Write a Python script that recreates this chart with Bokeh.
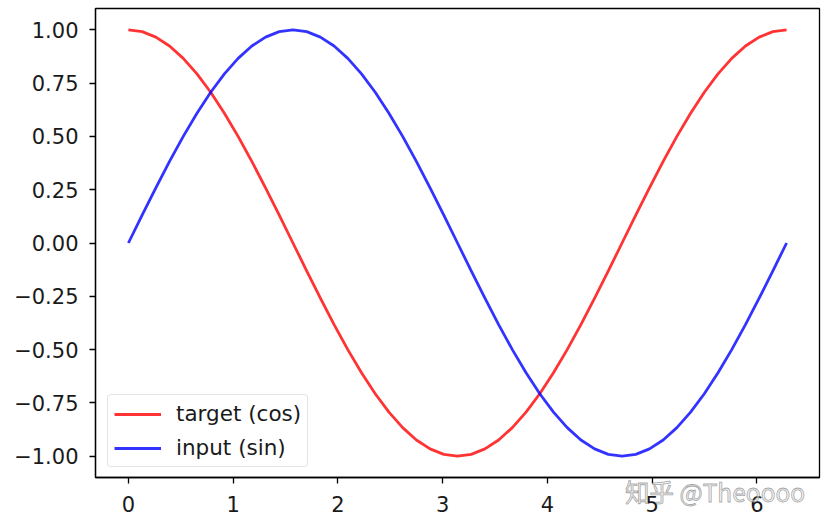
from bokeh.plotting import figure
from bokeh.models import (ColumnDataSource, Range1d, FixedTicker, CustomJSTickFormatter,
                          Legend, LegendItem, Div)
from bokeh.layouts import column
from bokeh.embed import file_html
from bokeh.resources import INLINE

# data (one full period)
x_vals = [0.0, 0.1309, 0.2618, 0.3927, 0.5236, 0.6545, 0.7854, 0.9163, 1.0472, 1.1781,
          1.3090, 1.4399, 1.5708, 1.7017, 1.8326, 1.9635, 2.0944, 2.2253, 2.3562, 2.4871,
          2.6180, 2.7489, 2.8798, 3.0107, 3.1416, 3.2725, 3.4034, 3.5343, 3.6652, 3.7961,
          3.9270, 4.0579, 4.1888, 4.3197, 4.4506, 4.5815, 4.7124, 4.8433, 4.9742, 5.1051,
          5.2360, 5.3669, 5.4978, 5.6287, 5.7596, 5.8905, 6.0214, 6.1523, 6.2832]
target_cos = [1.0, 0.9914, 0.9659, 0.9239, 0.8660, 0.7934, 0.7071, 0.6088, 0.5, 0.3827,
              0.2588, 0.1305, 0.0, -0.1305, -0.2588, -0.3827, -0.5, -0.6088, -0.7071, -0.7934,
              -0.8660, -0.9239, -0.9659, -0.9914, -1.0, -0.9914, -0.9659, -0.9239, -0.8660, -0.7934,
              -0.7071, -0.6088, -0.5, -0.3827, -0.2588, -0.1305, 0.0, 0.1305, 0.2588, 0.3827,
              0.5, 0.6088, 0.7071, 0.7934, 0.8660, 0.9239, 0.9659, 0.9914, 1.0]
input_sin = [0.0, 0.1305, 0.2588, 0.3827, 0.5, 0.6088, 0.7071, 0.7934, 0.8660, 0.9239,
             0.9659, 0.9914, 1.0, 0.9914, 0.9659, 0.9239, 0.8660, 0.7934, 0.7071, 0.6088,
             0.5, 0.3827, 0.2588, 0.1305, 0.0, -0.1305, -0.2588, -0.3827, -0.5, -0.6088,
             -0.7071, -0.7934, -0.8660, -0.9239, -0.9659, -0.9914, -1.0, -0.9914, -0.9659, -0.9239,
             -0.8660, -0.7934, -0.7071, -0.6088, -0.5, -0.3827, -0.2588, -0.1305, 0.0]
x_ticks = [0, 1, 2, 3, 4, 5, 6]
y_ticks = [-1.0, -0.75, -0.5, -0.25, 0.0, 0.25, 0.5, 0.75, 1.0]
series_labels = ["target (cos)", "input (sin)"]
watermark = "知乎 @Theoooo"

src = ColumnDataSource(dict(x=x_vals, c=target_cos, s=input_sin))

xmin, xmax = min(x_vals), max(x_vals)
xpad = (xmax - xmin) * 0.05
ymin, ymax = min(input_sin), max(input_sin)
ypad = (ymax - ymin) * 0.05

p = figure(width=821, height=520, output_backend="svg", toolbar_location=None,
           x_range=Range1d(xmin - xpad, xmax + xpad), y_range=Range1d(ymin - ypad, ymax + ypad),
           min_border_left=95, min_border_right=2, min_border_top=8, min_border_bottom=43)
p.background_fill_color = "white"
p.border_fill_color = "white"
p.outline_line_color = "black"
p.outline_line_width = 1.3
p.xgrid.visible = False
p.ygrid.visible = False

r_cos = p.line("x", "c", source=src, line_color="red", line_alpha=0.8, line_width=2.8,
               line_join="round")
r_sin = p.line("x", "s", source=src, line_color="blue", line_alpha=0.8, line_width=2.8,
               line_join="round")

for ax in (p.xaxis[0], p.yaxis[0]):
    ax.axis_line_color = "black"
    ax.axis_line_width = 1.3
    ax.major_tick_line_color = "black"
    ax.major_tick_line_width = 1.3
    ax.major_tick_out = 6
    ax.major_tick_in = 0
    ax.minor_tick_line_color = None
    ax.major_label_text_font = "DejaVu Sans"
    ax.major_label_text_font_size = "21px"
    ax.major_label_text_color = "#1a1a1a"

p.xaxis[0].major_label_standoff = 12
p.yaxis[0].major_label_standoff = 11
p.xaxis[0].ticker = FixedTicker(ticks=x_ticks)
p.yaxis[0].ticker = FixedTicker(ticks=y_ticks)
p.yaxis[0].formatter = CustomJSTickFormatter(code="return tick.toFixed(2).replace('-', '\\u2212');")

legend = Legend(items=[LegendItem(label=series_labels[0], renderers=[r_cos]),
                       LegendItem(label=series_labels[1], renderers=[r_sin])],
                location=(12, 10), margin=0)
legend.label_text_font = "DejaVu Sans"
legend.label_text_font_size = "21.5px"
legend.label_text_color = "#1a1a1a"
legend.glyph_width = 47
legend.glyph_height = 24
legend.label_height = 24
legend.label_standoff = 15
legend.spacing = 9
legend.padding = 6
legend.border_line_color = "#cccccc"
legend.border_line_width = 1.3
legend.background_fill_color = "white"
legend.background_fill_alpha = 0.8
if "border_radius" in Legend.properties():
    legend.border_radius = 4
p.add_layout(legend, "center")

wm = Div(text=watermark, margin=0, styles={
    "position": "absolute", "left": "625px", "top": "480px", "z-index": "10",
    "white-space": "nowrap", "font-family": "'Noto Sans CJK SC', sans-serif",
    "font-size": "24.5px", "line-height": "24px",
    "color": "rgba(236,236,236,0.6)",
    "-webkit-text-stroke": "0.8px rgba(110,110,110,0.6)",
})

layout = column(p, wm)
open("out.html", "w").write(file_html(layout, INLINE))
